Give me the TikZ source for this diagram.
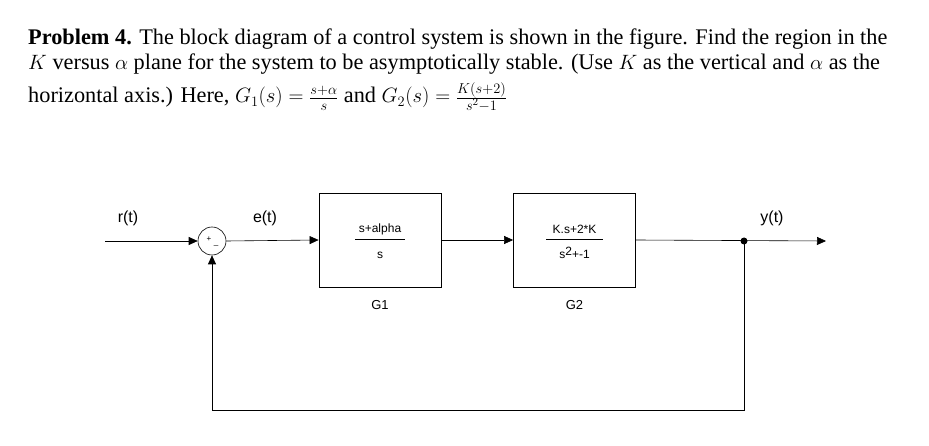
\documentclass[tikz,border=0pt]{standalone}
\usepackage{fontspec}
\setmainfont{Liberation Serif}
\setsansfont{Liberation Sans}
\usetikzlibrary{arrows.meta}
\begin{document}
\begin{tikzpicture}[x=1pt,y=-1pt,
  txt/.style={anchor=base west,inner sep=0pt,font=\fontsize{22.3}{26}\selectfont},
  blk/.style={draw,line width=0.8pt,minimum width=122pt,minimum height=94pt,inner sep=0pt},
  lab/.style={font=\sffamily\fontsize{16}{19}\selectfont,inner sep=0pt},
  small/.style={font=\sffamily\fontsize{12}{14}\selectfont,inner sep=0pt},
  sig/.style={line width=0.6pt},
  arr/.style={sig,-{Triangle[length=9pt,width=8pt]}}]
\useasboundingbox (0,0) rectangle (929,446);
\node[txt] (l1) at (28,45) {\textbf{Problem 4.} The block diagram of a control system is shown in the figure. Find the region in the};
\node[txt] (l2) at (28,70) {$K$ versus $\alpha$ plane for the system to be asymptotically stable. (Use $K$ as the vertical and $\alpha$ as the};
\node[txt] (l3) at (28,103) {horizontal axis.) Here, $G_1(s)=\frac{s+\alpha}{s}$ and $G_2(s)=\frac{K(s+2)}{s^2-1}$};

\coordinate (in) at (105,241);
\node[draw,circle,minimum size=28pt,inner sep=0pt,line width=0.6pt] (sum) at (212,241) {};
\node[font=\sffamily\fontsize{8}{9}\selectfont] at (209,239) {+};
\node[font=\sffamily\fontsize{8}{9}\selectfont] at (216,245) {\_};
\node[blk] (g1) at (380,240) {};
\node[blk] (g2) at (574.5,240) {};
\node[small] at (380,229) {s+alpha};
\draw[line width=0.5pt] (355,239) -- (405,239);
\node[small] at (380,255) {s};
\node[small] at (574.5,229) {K.s+2*K};
\node[small] at (574.5,253) {s\raisebox{3pt}{2}+-1};
\draw[line width=0.5pt] (546,239) -- (603,239);
\node[lab,font=\sffamily\fontsize{13}{15}\selectfont] at (380,305) {G1};
\node[lab,font=\sffamily\fontsize{13}{15}\selectfont] at (574.5,305) {G2};
\node[lab] at (128,218) {r(t)};
\node[lab] at (265,218) {e(t)};
\node[lab] at (772,218) {y(t)};
\coordinate (br) at (744,241);
\coordinate (out) at (826,241);
\coordinate (c1) at (744,410);
\coordinate (c2) at (212,410);
\draw[arr] (in) -- (sum.west);
\draw[arr] (sum.east) -- (g1.west);
\draw[arr] (g1.east) -- (g2.west);
\draw[arr] (g2.east) -- (out);
\draw[arr] (br) -- (c1) -- (c2) -- (sum.south);
\fill (br) circle (3.5pt);
\end{tikzpicture}
\end{document}
